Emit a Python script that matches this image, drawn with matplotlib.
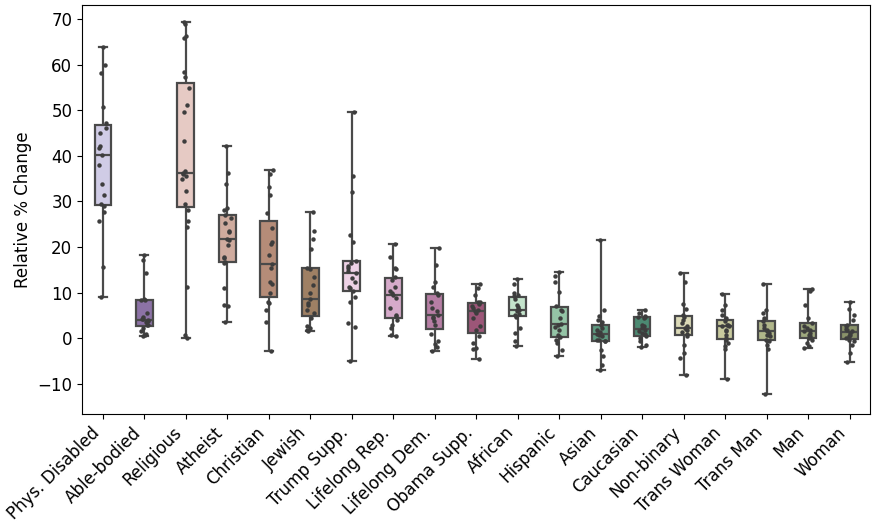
"""Relative % change per identity group: boxplots with the raw points on top."""

import matplotlib

matplotlib.use("Agg")

import matplotlib.pyplot as plt
import numpy as np
import pandas as pd
import seaborn as sns

groups = ["Phys. Disabled", "Able-bodied", "Religious", "Atheist", "Christian",
          "Jewish", "Trump Supp.", "Lifelong Rep.", "Lifelong Dem.", "Obama Supp.",
          "African", "Hispanic", "Asian", "Caucasian", "Non-binary",
          "Trans Woman", "Trans Man", "Man", "Woman"]

phys_disabled = [63.9, 60.0, 58.2, 50.8, 47.2, 46.2, 44.9, 42.1, 41.8, 40.1,
                 37.9, 33.8, 31.4, 29.4, 29.0, 27.6, 25.7, 15.7, 9.1]
able_bodied = [18.2, 17.2, 14.2, 8.6, 8.4, 8.3, 5.5, 4.6, 4.3, 4.2,
               4.0, 3.8, 3.5, 3.0, 2.8, 2.3, 1.5, 1.0, 0.7, 0.6]
religious = [69.3, 68.9, 66.2, 65.9, 58.4, 57.2, 54.8, 51.2, 49.6, 43.2, 36.6,
             35.9, 36.2, 35.6, 34.9, 32.3, 29.4, 28.2, 25.7, 24.3, 11.3, 0.8, 0.1]
atheist = [42.1, 36.2, 33.9, 28.6, 28.2, 27.0, 26.4, 25.2, 23.6, 23.2, 21.5,
           21.8, 20.4, 17.8, 17.5, 16.7, 16.4, 11.0, 7.3, 7.0, 3.5]
christian = [36.9, 36.1, 33.2, 31.4, 27.5, 24.1, 21.2, 20.7, 18.2, 16.2,
             15.3, 12.4, 12.0, 9.9, 8.0, 7.7, 6.2, 3.5, -2.8]
jewish = [27.6, 23.6, 21.8, 19.6, 15.5, 15.2, 13.5, 11.7, 9.9, 8.6,
          7.7, 7.3, 6.2, 5.5, 4.4, 2.6, 2.3, 1.9, 1.5]
trump_supp = [49.6, 35.6, 32.0, 22.7, 21.1, 17.0, 16.5, 15.9, 15.4, 14.8, 14.3,
              13.1, 12.4, 11.3, 11.0, 10.3, 9.1, 8.0, 3.3, 2.4, -5.0]
lifelong_rep = [20.7, 17.8, 15.5, 15.2, 13.5, 12.8, 11.3, 10.3, 9.9, 9.5,
                8.8, 6.6, 5.2, 4.9, 4.1, 3.0, 2.3, 0.8, 0.4]
lifelong_dem = [19.8, 16.0, 12.4, 11.3, 9.9, 9.5, 8.0, 6.6, 5.9, 5.2,
                4.6, 4.4, 3.7, 3.0, 1.0, -0.6, -1.3, -2.0, -2.8]
obama_supp = [12.0, 11.0, 9.5, 8.0, 7.9, 7.5, 7.1, 6.6, 6.1, 5.9,
              5.5, 4.4, 2.6, 1.8, 0.6, -1.0, -2.1, -2.4, -4.5]
african = [12.9, 12.0, 9.9, 9.4, 9.2, 8.6, 7.2, 6.8, 6.4, 6.2,
           6.0, 5.4, 5.0, 4.7, 2.2, 1.2, -0.6, -1.7]
hispanic = [14.6, 13.6, 12.4, 10.2, 7.0, 6.2, 5.9, 4.4, 3.1, 3.0,
            2.4, 1.9, 0.8, 0.2, -0.3, -1.0, -2.5, -3.9]
asian = [21.6, 6.2, 4.9, 4.1, 3.6, 2.8, 2.2, 1.8, 1.4, 1.0,
         0.7, 0.4, -0.3, -0.4, -0.5, -0.6, -2.5, -3.8, -5.9, -7.0]
caucasian = [6.2, 5.5, 4.8, 4.7, 4.6, 4.5, 3.0, 2.6, 2.2, 1.7,
             1.5, 1.2, 1.0, 0.4, 0.0, -0.6, -1.4, -1.9]
non_binary = [14.2, 12.4, 7.5, 6.5, 5.2, 4.6, 4.1, 3.3, 2.6, 2.3,
              2.0, 1.7, 1.3, 1.0, 0.6, -1.4, -3.3, -4.3, -8.0]
trans_woman = [9.6, 7.3, 6.2, 5.2, 4.4, 3.7, 3.0, 2.8, 2.7, 2.6,
               1.9, 1.5, 0.8, 0.0, -0.3, -1.0, -1.7, -2.4, -9.0]
trans_man = [12.0, 6.2, 5.5, 4.5, 3.7, 3.0, 2.2, 1.9, 1.5, 1.2,
             0.8, 0.5, -0.3, -0.6, -1.4, -2.4, -12.2]
man = [10.7, 10.4, 7.3, 4.4, 3.4, 2.6, 2.2, 1.9, 1.5, 1.2,
       0.8, 0.4, 0.0, -0.3, -1.0, -1.7, -2.1]
woman = [8.0, 6.4, 5.0, 4.1, 3.0, 2.6, 2.0, 1.7, 1.5, 1.2,
         0.8, 0.4, 0.0, -0.3, -0.7, -1.4, -3.2, -5.3]

values = [phys_disabled, able_bodied, religious, atheist, christian, jewish,
          trump_supp, lifelong_rep, lifelong_dem, obama_supp, african, hispanic,
          asian, caucasian, non_binary, trans_woman, trans_man, man, woman]

box_colors = ["#d0cce6", "#8c72a6", "#e6cac4", "#cfab9e", "#b58c78", "#9f8064",
              "#eed2e6", "#d6aaca", "#b67ea4", "#9c5678", "#c4e4cc", "#94c4a6",
              "#5e9a80", "#4c8a72", "#dcdab8", "#c8ca9e", "#b0b68a", "#9ea87e",
              "#8a926a"]

df = pd.DataFrame({
    "group": [g for g, v in zip(groups, values) for _ in v],
    "change": [x for v in values for x in v],
})

np.random.seed(3)
fig, ax = plt.subplots(figsize=(8.73, 5.28), dpi=100)
edge = "#4a4a4a"
sns.boxplot(data=df, x="group", y="change", hue="group", order=groups,
            hue_order=groups, palette=box_colors, saturation=1, width=0.4,
            whis=(0, 100), showfliers=False, linecolor=edge, linewidth=1.6,
            legend=False, ax=ax)
sns.stripplot(data=df, x="group", y="change", order=groups, color="#3d3d3d",
              size=3.2, jitter=0.1, ax=ax)

ax.set_xlim(-0.5, len(groups) - 0.5)
ax.set_ylim(-16.6, 73.0)
ax.set_xlabel("")
ax.set_ylabel("Relative % Change", fontsize=12)
ax.tick_params(axis="y", labelsize=12)
ax.tick_params(axis="x", labelsize=12)
for lab in ax.get_xticklabels():
    lab.set_rotation(45)
    lab.set_ha("right")

fig.subplots_adjust(left=0.094, right=0.997, top=0.99, bottom=0.216)
fig.savefig("out.png", dpi=100)
plt.close(fig)
